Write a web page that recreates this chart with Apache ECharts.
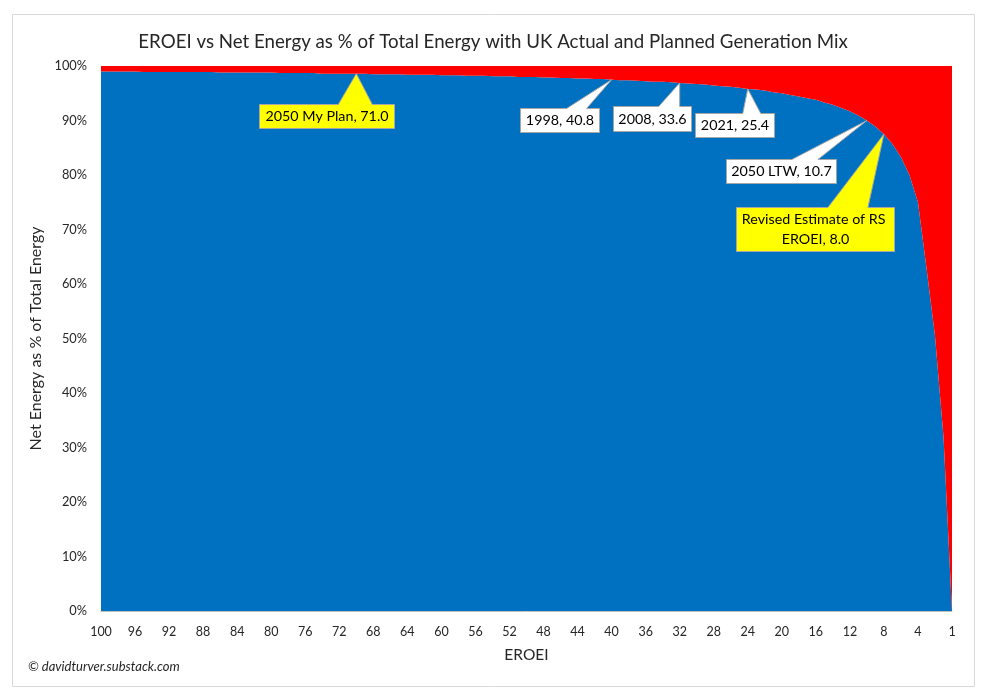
<!DOCTYPE html>
<html>
<head>
<meta charset="utf-8">
<script src="https://cdn.jsdelivr.net/npm/echarts@6/dist/echarts.min.js"></script>
<style>
html,body{margin:0;padding:0;background:#fff;}
#chart{width:996px;height:699px;}
</style>
</head>
<body>
<div id="chart"></div>
<script>
// EROEI categories (x axis, from 100 down to 1)
const categories = ['100','99','98','97','96','95','94','93','92','91','90','89','88','87','86','85','84','83','82','81',
  '80','79','78','77','76','75','74','73','72','71','70','69','68','67','66','65','64','63','62','61',
  '60','59','58','57','56','55','54','53','52','51','50','49','48','47','46','45','44','43','42','41',
  '40','39','38','37','36','35','34','33','32','31','30','29','28','27','26','25','24','23','22','21',
  '20','19','18','17','16','15','14','13','12','11','10','9','8','7','6','5','4','3','2','1.5','1'];

// Net energy as % of total energy (blue area)
const netEnergy = [99.0,99.0,99.0,99.0,99.0,98.9,98.9,98.9,98.9,98.9,98.9,98.9,98.9,98.9,98.8,98.8,98.8,98.8,98.8,98.8,
  98.8,98.7,98.7,98.7,98.7,98.7,98.6,98.6,98.6,98.6,98.6,98.6,98.5,98.5,98.5,98.5,98.4,98.4,98.4,98.4,
  98.3,98.3,98.3,98.2,98.2,98.2,98.1,98.1,98.1,98.0,98.0,98.0,97.9,97.9,97.8,97.8,97.7,97.7,97.6,97.6,
  97.5,97.4,97.4,97.3,97.2,97.1,97.1,97.0,96.9,96.8,96.7,96.6,96.4,96.3,96.2,96.0,95.8,95.7,95.5,95.2,
  95.0,94.7,94.4,94.1,93.8,93.3,92.9,92.3,91.7,90.9,90.0,88.9,87.5,85.7,83.3,80.0,75.0,63.0,50.5,32.0,0.0];

// Energy invested as % of total energy (red area, stacked on top)
const energyInvested = [1.0,1.0,1.0,1.0,1.0,1.1,1.1,1.1,1.1,1.1,1.1,1.1,1.1,1.1,1.2,1.2,1.2,1.2,1.2,1.2,
  1.2,1.3,1.3,1.3,1.3,1.3,1.4,1.4,1.4,1.4,1.4,1.4,1.5,1.5,1.5,1.5,1.6,1.6,1.6,1.6,
  1.7,1.7,1.7,1.8,1.8,1.8,1.9,1.9,1.9,2.0,2.0,2.0,2.1,2.1,2.2,2.2,2.3,2.3,2.4,2.4,
  2.5,2.6,2.6,2.7,2.8,2.9,2.9,3.0,3.1,3.2,3.3,3.4,3.6,3.7,3.8,4.0,4.2,4.3,4.5,4.8,
  5.0,5.3,5.6,5.9,6.2,6.7,7.1,7.7,8.3,9.1,10.0,11.1,12.5,14.3,16.7,20.0,25.0,37.0,49.5,68.0,100.0];

// Y axis ticks
const yTicks = [0,10,20,30,40,50,60,70,80,90,100];

// Callout annotations
const calloutNames  = ['2050 My Plan','1998','2008','2021','2050 LTW','Revised Estimate of RS EROEI'];
const calloutEroei  = [71.0, 40.8, 33.6, 25.4, 10.7, 8.0];
const calloutAnchor = ['70','40','32','24','10','8'];

// Callout layout (pixel offsets relative to the pointed data point) – styling only
const calloutLayout = [
  {dx:-97,  dy:30.5, w:135, h:24, b0:-18, b1:16,  fill:'#FFFF00', tw:null},
  {dx:-92,  dy:28.5, w:79,  h:24, b0:-45, b1:-25, fill:'#FFFFFF', tw:null},
  {dx:-66.5,dy:23,   w:78,  h:25, b0:-21, b1:0,   fill:'#FFFFFF', tw:null},
  {dx:-53,  dy:24.5, w:79,  h:24, b0:-5,  b1:13,  fill:'#FFFFFF', tw:null},
  {dx:-141, dy:38.5, w:110, h:24, b0:-75, b1:-49, fill:'#FFFFFF', tw:null},
  {dx:-148, dy:72.5, w:158, h:44, b0:-56, b1:-16, fill:'#FFFF00', tw:150}
];

const FONT = 'Lato, "Noto Sans", sans-serif';

const chart = echarts.init(document.getElementById('chart'), null, {renderer:'canvas'});

const calloutData = calloutAnchor.map(c => [c, netEnergy[categories.indexOf(c)]]);

chart.setOption({
  animation: false,
  backgroundColor: '#fff',
  title: {
    text: 'EROEI vs Net Energy as % of Total Energy with UK Actual and Planned Generation Mix',
    left: 488, top: 27, textAlign: 'center',
    textStyle: {fontFamily: FONT, fontSize: 18.7, fontWeight: 'normal', color: '#262626'}
  },
  grid: {left: 101, right: 44, top: 66, bottom: 88, containLabel: false},
  xAxis: {
    type: 'category',
    data: categories,
    boundaryGap: false,
    name: 'EROEI',
    nameLocation: 'middle',
    nameGap: 36,
    nameTextStyle: {fontFamily: FONT, fontSize: 15.5, color: '#262626'},
    axisLine: {show: true, lineStyle: {color: '#BFBFBF', width: 1}},
    axisTick: {show: false},
    axisLabel: {interval: 3, margin: 14, fontFamily: FONT, fontSize: 12.5, color: '#262626'},
    splitLine: {show: false},
    z: 10
  },
  yAxis: {
    type: 'value',
    min: yTicks[0], max: yTicks[yTicks.length-1], interval: yTicks[1]-yTicks[0],
    name: 'Net Energy as % of Total Energy',
    nameLocation: 'middle',
    nameGap: 50,
    nameTextStyle: {fontFamily: FONT, fontSize: 16, color: '#262626'},
    axisLine: {show: false},
    axisTick: {show: false},
    splitLine: {show: false},
    axisLabel: {formatter: '{value}%', margin: 14, fontFamily: FONT, fontSize: 12.8, color: '#262626'}
  },
  series: [
    {
      name: 'Net Energy', type: 'line', stack: 'total', data: netEnergy,
      showSymbol: false, symbol: 'none',
      lineStyle: {width: 0}, areaStyle: {color: '#0070C0', opacity: 1},
      itemStyle: {color: '#0070C0'}, z: 2
    },
    {
      name: 'Energy Invested', type: 'line', stack: 'total', data: energyInvested,
      showSymbol: false, symbol: 'none',
      lineStyle: {width: 0}, areaStyle: {color: '#FF0000', opacity: 1},
      itemStyle: {color: '#FF0000'}, z: 2
    },
    {
      name: 'Callouts', type: 'custom', data: calloutData, z: 20,
      clip: false,
      renderItem: function (params, api) {
        const i = params.dataIndex;
        const p = api.coord([api.value(0), api.value(1)]);
        const L = calloutLayout[i];
        const bx = Math.round(p[0] + L.dx) + 0.5, by = Math.round(p[1] + L.dy) + 0.5;
        const pts = [[bx, by], [p[0] + L.b0, by], [p[0], p[1]], [p[0] + L.b1, by],
                     [bx + L.w, by], [bx + L.w, by + L.h], [bx, by + L.h]];
        const textStyle = {text: calloutNames[i] + ', ' + calloutEroei[i].toFixed(1),
                           fill: '#000', font: '14.3px ' + FONT, align: 'center', verticalAlign: 'middle',
                           lineHeight: 20};
        if (L.tw) { textStyle.width = L.tw; textStyle.overflow = 'break'; }
        return {
          type: 'group',
          children: [
            {type: 'polygon', shape: {points: pts},
             style: {fill: L.fill, stroke: '#A6A6A6', lineWidth: 1}},
            {type: 'text', x: bx + L.w / 2, y: by + L.h / 2, style: textStyle}
          ]
        };
      }
    }
  ],
  graphic: [
    {type: 'rect', left: 10, top: 12, z: -10,
     shape: {x: 0.5, y: 0.5, width: 962, height: 672},
     style: {fill: 'none', stroke: '#D9D9D9', lineWidth: 1}},
    {type: 'text', left: 28, top: 660,
     style: {text: '© davidturver.substack.com', font: 'italic 13px ' + FONT, fill: '#262626'}}
  ]
});
</script>
</body>
</html>
